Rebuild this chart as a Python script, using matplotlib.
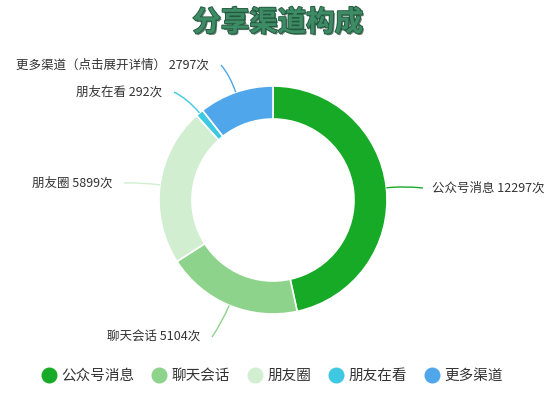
import numpy as np
import matplotlib
matplotlib.use('Agg')
import matplotlib.pyplot as plt
import matplotlib.patheffects as pe
from matplotlib.lines import Line2D
from matplotlib.path import Path
from matplotlib.patches import PathPatch

plt.rcParams['font.family'] = ['Noto Sans CJK SC', 'DejaVu Sans']

channels = ['公众号消息', '聊天会话', '朋友圈', '朋友在看', '更多渠道']
counts = [12297, 5104, 5899, 292, 2797]
label_names = ['公众号消息', '聊天会话', '朋友圈', '朋友在看', '更多渠道（点击展开详情）']
colors = ['#17aa27', '#8dd38b', '#d2eed1', '#3ec8e2', '#4fa6ea']

# label layout (pixel positions of text anchor, from top-left), echarts-style
label_pos = [(432, 188), (200, 337), (112, 183), (162, 92), (209, 65)]
label_ha = ['left', 'right', 'right', 'right', 'right']

W, H = 559, 403
cx, cy, R = 273, H - 200, 114

fig = plt.figure(figsize=(W / 100, H / 100), dpi=100)
ax = fig.add_axes([0, 0, 1, 1])

wedges, _ = ax.pie(counts, colors=colors, startangle=90, counterclock=False,
                   center=(cx, cy), radius=R,
                   wedgeprops=dict(width=33, edgecolor='white', linewidth=1.2))
ax.set_xlim(0, W)
ax.set_ylim(0, H)
ax.set_aspect('equal')
ax.axis('off')

total = sum(counts)
cum = 0
for i, v in enumerate(counts):
    mid = (cum + v / 2) / total
    cum += v
    ang = np.deg2rad(90 - mid * 360)
    ex, ey = cx + R * np.cos(ang), cy + R * np.sin(ang)
    tx, ty = label_pos[i]
    ty = H - ty
    end = (tx - 9, ty) if label_ha[i] == 'left' else (tx + 12, ty)
    # smooth leader line (quadratic curve) from ring edge to label
    ctrl = (ex + 18 * np.cos(ang), ey + 18 * np.sin(ang))
    path = Path([(ex, ey), ctrl, end], [Path.MOVETO, Path.CURVE3, Path.CURVE3])
    ax.add_patch(PathPatch(path, facecolor='none', edgecolor=colors[i], linewidth=1))
    ax.text(tx, ty, f'{label_names[i]} {counts[i]}次', ha=label_ha[i], va='center',
            fontsize=9, color='#333333')

title = fig.text(0.497, 0.943, '分享渠道构成', ha='center', va='center', fontsize=20.5,
                 fontweight='heavy', color='#3d8c66')
title.set_path_effects([pe.withSimplePatchShadow(offset=(1.2, -1.2), shadow_rgbFace='#1d4a33', alpha=0.7),
                        pe.Stroke(linewidth=1.3, foreground='#24573d'), pe.Normal()])

handles = [Line2D([], [], marker='o', linestyle='', markersize=10.5, markerfacecolor=c,
                  markeredgecolor=c) for c in colors]
fig.legend(handles, channels, loc='center', bbox_to_anchor=(0.487, 0.067), ncol=5,
           frameon=False, fontsize=10.5, handletextpad=0.35, handlelength=1.0,
           columnspacing=1.2, labelcolor='#333333')

fig.savefig('out.png', dpi=100, facecolor='white')
